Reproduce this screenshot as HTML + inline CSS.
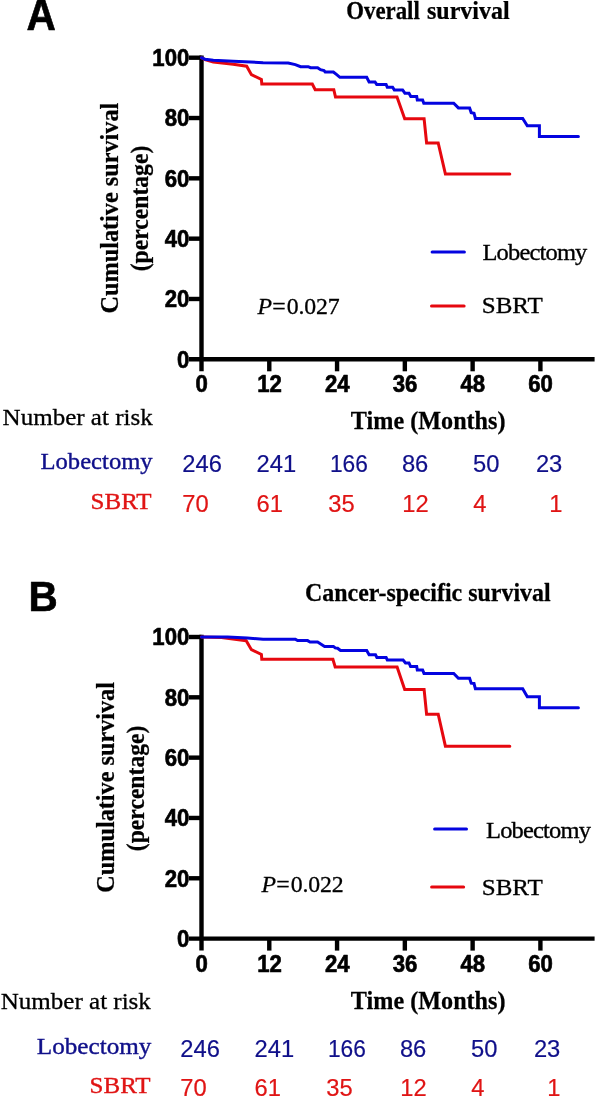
<!DOCTYPE html>
<html lang="en">
<head>
<meta charset="utf-8">
<title>Survival curves</title>
<style>
html,body{margin:0;padding:0;background:#fff;}
body{width:596px;height:1097px;overflow:hidden;}
svg{display:block;}
text{white-space:pre;}
</style>
</head>
<body>
<svg width="596" height="1097" viewBox="0 0 596 1097">
<rect width="596" height="1097" fill="#fff"/>
<text transform="translate(26.4 29.6) scale(0.935 1)" font-family='"Liberation Sans", sans-serif' font-size="43.5" font-weight="bold" fill="#000" stroke="#000" stroke-width="0.7" stroke-linejoin="round" text-anchor="start">A</text>
<text transform="translate(28.5 610.7) scale(0.95 1)" font-family='"Liberation Sans", sans-serif' font-size="42.6" font-weight="bold" fill="#000" stroke="#000" stroke-width="0.6" stroke-linejoin="round" text-anchor="start">B</text>
<g stroke="#000" stroke-width="4.4" fill="none" stroke-linecap="butt">
<path d="M201.5 55.50 V371.30"/>
<path d="M189 359.30 H594.6"/>
<path d="M189 57.70 H201.5"/>
<path d="M189 118.02 H201.5"/>
<path d="M189 178.34 H201.5"/>
<path d="M189 238.66 H201.5"/>
<path d="M189 298.98 H201.5"/>
<path d="M269.28 359.30 V371.30"/>
<path d="M337.06 359.30 V371.30"/>
<path d="M404.84 359.30 V371.30"/>
<path d="M472.62 359.30 V371.30"/>
<path d="M540.40 359.30 V371.30"/>
</g>
<text transform="translate(189.3 66.10) scale(0.94 1)" font-family='"Liberation Sans", sans-serif' font-size="23.6" font-weight="bold" fill="#000" stroke="#000" stroke-width="0.65" stroke-linejoin="round" text-anchor="end">100</text>
<text transform="translate(189.3 126.42) scale(0.94 1)" font-family='"Liberation Sans", sans-serif' font-size="23.6" font-weight="bold" fill="#000" stroke="#000" stroke-width="0.65" stroke-linejoin="round" text-anchor="end">80</text>
<text transform="translate(189.3 186.74) scale(0.94 1)" font-family='"Liberation Sans", sans-serif' font-size="23.6" font-weight="bold" fill="#000" stroke="#000" stroke-width="0.65" stroke-linejoin="round" text-anchor="end">60</text>
<text transform="translate(189.3 247.06) scale(0.94 1)" font-family='"Liberation Sans", sans-serif' font-size="23.6" font-weight="bold" fill="#000" stroke="#000" stroke-width="0.65" stroke-linejoin="round" text-anchor="end">40</text>
<text transform="translate(189.3 307.38) scale(0.94 1)" font-family='"Liberation Sans", sans-serif' font-size="23.6" font-weight="bold" fill="#000" stroke="#000" stroke-width="0.65" stroke-linejoin="round" text-anchor="end">20</text>
<text transform="translate(189.3 367.70) scale(0.94 1)" font-family='"Liberation Sans", sans-serif' font-size="23.6" font-weight="bold" fill="#000" stroke="#000" stroke-width="0.65" stroke-linejoin="round" text-anchor="end">0</text>
<text transform="translate(201.70 392.30) scale(0.94 1)" font-family='"Liberation Sans", sans-serif' font-size="23.6" font-weight="bold" fill="#000" stroke="#000" stroke-width="0.65" stroke-linejoin="round" text-anchor="middle">0</text>
<text transform="translate(269.48 392.30) scale(0.94 1)" font-family='"Liberation Sans", sans-serif' font-size="23.6" font-weight="bold" fill="#000" stroke="#000" stroke-width="0.65" stroke-linejoin="round" text-anchor="middle">12</text>
<text transform="translate(337.26 392.30) scale(0.94 1)" font-family='"Liberation Sans", sans-serif' font-size="23.6" font-weight="bold" fill="#000" stroke="#000" stroke-width="0.65" stroke-linejoin="round" text-anchor="middle">24</text>
<text transform="translate(405.04 392.30) scale(0.94 1)" font-family='"Liberation Sans", sans-serif' font-size="23.6" font-weight="bold" fill="#000" stroke="#000" stroke-width="0.65" stroke-linejoin="round" text-anchor="middle">36</text>
<text transform="translate(472.82 392.30) scale(0.94 1)" font-family='"Liberation Sans", sans-serif' font-size="23.6" font-weight="bold" fill="#000" stroke="#000" stroke-width="0.65" stroke-linejoin="round" text-anchor="middle">48</text>
<text transform="translate(540.60 392.30) scale(0.94 1)" font-family='"Liberation Sans", sans-serif' font-size="23.6" font-weight="bold" fill="#000" stroke="#000" stroke-width="0.65" stroke-linejoin="round" text-anchor="middle">60</text>
<path d="M201.5 57.7 L205.0 59.6 L213.3 62.1 L233.2 64.3 L246.7 66.2 L251.4 74.7 L261.4 79.4 L261.8 84.0 L312.3 84.0 L315.2 89.7 L333.8 89.7 L335.5 97.1 L397.0 97.1 L404.7 118.8 L424.1 118.8 L426.6 143.0 L438.2 143.0 L445.4 174.1 L509.8 174.1" stroke="#e6080f" stroke-width="3.0" fill="none" stroke-linejoin="miter" stroke-linecap="round"/>
<path d="M201.5 57.7 L203.0 58.4 L205.0 59.2 L213.3 60.3 L233.2 61.2 L263.1 62.7 L288.2 63.0 L295.3 64.6 L300.6 66.7 L308.2 66.7 L310.5 67.7 L317.6 67.7 L320.5 69.7 L324.0 70.5 L325.2 72.0 L333.4 72.0 L336.4 74.4 L339.9 77.3 L366.7 77.3 L369.1 82.0 L375.0 82.0 L376.7 84.4 L386.1 84.4 L387.3 87.3 L392.6 87.3 L394.3 89.9 L402.6 89.9 L404.9 93.2 L409.0 93.2 L410.8 96.5 L416.7 96.5 L417.3 100.0 L422.6 100.0 L423.8 103.2 L453.7 103.2 L458.4 107.9 L469.6 107.9 L471.2 112.6 L474.0 113.2 L475.4 118.4 L522.7 118.4 L527.3 125.7 L539.4 125.7 L539.4 136.4 L578.4 136.4" stroke="#0404e0" stroke-width="3.0" fill="none" stroke-linejoin="miter" stroke-linecap="round"/>
<text transform="translate(346.2 19.4) scale(0.937 1)" font-family='"Liberation Serif", serif' font-size="24.4" font-weight="bold" fill="#000" stroke="#000" stroke-width="0.25" stroke-linejoin="round" text-anchor="start">Overall</text>
<text transform="translate(427.0 19.4) scale(0.984 1)" font-family='"Liberation Serif", serif' font-size="24.4" font-weight="bold" fill="#000" stroke="#000" stroke-width="0.25" stroke-linejoin="round" text-anchor="start">survival</text>
<text transform="translate(117.8 208.10) rotate(-90) scale(0.94 1)" font-family='"Liberation Serif", serif' font-size="25.8" font-weight="bold" fill="#000" stroke="#000" stroke-width="0.25" stroke-linejoin="round" text-anchor="middle">Cumulative survival</text>
<text transform="translate(147.9 208.50) rotate(-90) scale(0.916 1)" font-family='"Liberation Serif", serif' font-size="25.8" font-weight="bold" fill="#000" stroke="#000" stroke-width="0.25" stroke-linejoin="round" text-anchor="middle">(percentage)</text>
<text transform="translate(428.2 429.30) scale(0.975 1)" font-family='"Liberation Serif", serif' font-size="24.8" font-weight="bold" fill="#000" stroke="#000" stroke-width="0.25" stroke-linejoin="round" text-anchor="middle">Time (Months)</text>
<text transform="translate(257.4 314.2)" font-family='"Liberation Serif", serif' font-size="23.8" stroke="#000" stroke-width="0.3"><tspan font-style="italic">P</tspan><tspan dx="0.4">=</tspan><tspan dx="0.9" letter-spacing="-0.12">0.027</tspan></text>
<path d="M432.1 252.0 H464.4" stroke="#0404e0" stroke-width="3.0" stroke-linecap="round"/>
<path d="M431.5 306.0 H464.1" stroke="#e6080f" stroke-width="3.0" stroke-linecap="round"/>
<text transform="translate(482.4 259.9) scale(1.03 1)" font-family='"Liberation Serif", serif' font-size="23.8" font-weight="normal" fill="#000" stroke="#000" stroke-width="0.35" stroke-linejoin="round" letter-spacing="-0.8" text-anchor="start">Lobectomy</text>
<text transform="translate(481.8 313.4) scale(1.05 1)" font-family='"Liberation Serif", serif' font-size="23.8" font-weight="normal" fill="#000" stroke="#000" stroke-width="0.35" stroke-linejoin="round" text-anchor="start">SBRT</text>
<g stroke="#000" stroke-width="4.4" fill="none" stroke-linecap="butt">
<path d="M201.5 634.80 V950.60"/>
<path d="M189 938.60 H594.6"/>
<path d="M189 637.00 H201.5"/>
<path d="M189 697.32 H201.5"/>
<path d="M189 757.64 H201.5"/>
<path d="M189 817.96 H201.5"/>
<path d="M189 878.28 H201.5"/>
<path d="M269.28 938.60 V950.60"/>
<path d="M337.06 938.60 V950.60"/>
<path d="M404.84 938.60 V950.60"/>
<path d="M472.62 938.60 V950.60"/>
<path d="M540.40 938.60 V950.60"/>
</g>
<text transform="translate(189.3 645.40) scale(0.94 1)" font-family='"Liberation Sans", sans-serif' font-size="23.6" font-weight="bold" fill="#000" stroke="#000" stroke-width="0.65" stroke-linejoin="round" text-anchor="end">100</text>
<text transform="translate(189.3 705.72) scale(0.94 1)" font-family='"Liberation Sans", sans-serif' font-size="23.6" font-weight="bold" fill="#000" stroke="#000" stroke-width="0.65" stroke-linejoin="round" text-anchor="end">80</text>
<text transform="translate(189.3 766.04) scale(0.94 1)" font-family='"Liberation Sans", sans-serif' font-size="23.6" font-weight="bold" fill="#000" stroke="#000" stroke-width="0.65" stroke-linejoin="round" text-anchor="end">60</text>
<text transform="translate(189.3 826.36) scale(0.94 1)" font-family='"Liberation Sans", sans-serif' font-size="23.6" font-weight="bold" fill="#000" stroke="#000" stroke-width="0.65" stroke-linejoin="round" text-anchor="end">40</text>
<text transform="translate(189.3 886.68) scale(0.94 1)" font-family='"Liberation Sans", sans-serif' font-size="23.6" font-weight="bold" fill="#000" stroke="#000" stroke-width="0.65" stroke-linejoin="round" text-anchor="end">20</text>
<text transform="translate(189.3 947.00) scale(0.94 1)" font-family='"Liberation Sans", sans-serif' font-size="23.6" font-weight="bold" fill="#000" stroke="#000" stroke-width="0.65" stroke-linejoin="round" text-anchor="end">0</text>
<text transform="translate(201.70 971.60) scale(0.94 1)" font-family='"Liberation Sans", sans-serif' font-size="23.6" font-weight="bold" fill="#000" stroke="#000" stroke-width="0.65" stroke-linejoin="round" text-anchor="middle">0</text>
<text transform="translate(269.48 971.60) scale(0.94 1)" font-family='"Liberation Sans", sans-serif' font-size="23.6" font-weight="bold" fill="#000" stroke="#000" stroke-width="0.65" stroke-linejoin="round" text-anchor="middle">12</text>
<text transform="translate(337.26 971.60) scale(0.94 1)" font-family='"Liberation Sans", sans-serif' font-size="23.6" font-weight="bold" fill="#000" stroke="#000" stroke-width="0.65" stroke-linejoin="round" text-anchor="middle">24</text>
<text transform="translate(405.04 971.60) scale(0.94 1)" font-family='"Liberation Sans", sans-serif' font-size="23.6" font-weight="bold" fill="#000" stroke="#000" stroke-width="0.65" stroke-linejoin="round" text-anchor="middle">36</text>
<text transform="translate(472.82 971.60) scale(0.94 1)" font-family='"Liberation Sans", sans-serif' font-size="23.6" font-weight="bold" fill="#000" stroke="#000" stroke-width="0.65" stroke-linejoin="round" text-anchor="middle">48</text>
<text transform="translate(540.60 971.60) scale(0.94 1)" font-family='"Liberation Sans", sans-serif' font-size="23.6" font-weight="bold" fill="#000" stroke="#000" stroke-width="0.65" stroke-linejoin="round" text-anchor="middle">60</text>
<path d="M201.5 636.9 L221.5 637.5 L246.2 640.7 L251.4 649.7 L261.4 654.4 L261.8 659.3 L332.9 659.3 L335.2 667.0 L397.1 667.0 L404.7 689.4 L424.1 689.4 L426.6 714.2 L438.2 714.2 L445.4 746.2 L509.8 746.2" stroke="#e6080f" stroke-width="3.0" fill="none" stroke-linejoin="miter" stroke-linecap="round"/>
<path d="M201.5 636.9 L227.4 636.9 L247.3 638.0 L263.1 639.2 L295.3 639.2 L297.6 640.6 L307.6 640.6 L310.0 642.0 L317.6 642.0 L324.6 646.4 L333.4 646.4 L335.2 647.9 L337.6 648.2 L340.5 650.5 L366.7 650.5 L369.1 654.7 L375.5 654.7 L376.9 657.4 L386.1 657.4 L387.3 660.0 L403.1 660.0 L405.5 662.9 L409.0 662.9 L410.6 666.5 L416.7 666.5 L417.3 670.0 L422.6 670.0 L424.0 673.4 L453.7 673.4 L458.4 678.3 L469.6 678.3 L471.2 683.2 L474.0 683.5 L475.4 688.8 L522.7 688.8 L527.3 696.8 L539.4 696.8 L539.4 707.7 L578.4 707.7" stroke="#0404e0" stroke-width="3.0" fill="none" stroke-linejoin="miter" stroke-linecap="round"/>
<text transform="translate(305.0 601.2) scale(0.981 1)" font-family='"Liberation Serif", serif' font-size="24.4" font-weight="bold" fill="#000" stroke="#000" stroke-width="0.25" stroke-linejoin="round" text-anchor="start">Cancer-specific survival</text>
<text transform="translate(114.3 787.40) rotate(-90) scale(0.94 1)" font-family='"Liberation Serif", serif' font-size="25.8" font-weight="bold" fill="#000" stroke="#000" stroke-width="0.25" stroke-linejoin="round" text-anchor="middle">Cumulative survival</text>
<text transform="translate(144.4 788.40) rotate(-90) scale(0.916 1)" font-family='"Liberation Serif", serif' font-size="25.8" font-weight="bold" fill="#000" stroke="#000" stroke-width="0.25" stroke-linejoin="round" text-anchor="middle">(percentage)</text>
<text transform="translate(428.2 1008.60) scale(0.975 1)" font-family='"Liberation Serif", serif' font-size="24.8" font-weight="bold" fill="#000" stroke="#000" stroke-width="0.25" stroke-linejoin="round" text-anchor="middle">Time (Months)</text>
<text transform="translate(261.4 891.6)" font-family='"Liberation Serif", serif' font-size="23.8" stroke="#000" stroke-width="0.3"><tspan font-style="italic">P</tspan><tspan dx="0.4">=</tspan><tspan dx="0.9" letter-spacing="-0.12">0.022</tspan></text>
<path d="M434.6 828.9 H466.5" stroke="#0404e0" stroke-width="3.0" stroke-linecap="round"/>
<path d="M431.6 887.1 H463.6" stroke="#e6080f" stroke-width="3.0" stroke-linecap="round"/>
<text transform="translate(486.0 837.8) scale(1.03 1)" font-family='"Liberation Serif", serif' font-size="23.8" font-weight="normal" fill="#000" stroke="#000" stroke-width="0.35" stroke-linejoin="round" letter-spacing="-0.8" text-anchor="start">Lobectomy</text>
<text transform="translate(481.8 895.1) scale(1.05 1)" font-family='"Liberation Serif", serif' font-size="23.8" font-weight="normal" fill="#000" stroke="#000" stroke-width="0.35" stroke-linejoin="round" text-anchor="start">SBRT</text>
<text transform="translate(2.6 424.8) scale(1.052 1)" font-family='"Liberation Serif", serif' font-size="23.8" font-weight="normal" fill="#000" stroke="#000" stroke-width="0.3" stroke-linejoin="round" text-anchor="start">Number at risk</text>
<text transform="translate(152.7 468.6) scale(1.035 1)" font-family='"Liberation Serif", serif' font-size="23.8" font-weight="normal" fill="#10108a" stroke="#10108a" stroke-width="0.4" stroke-linejoin="round" text-anchor="end">Lobectomy</text>
<text transform="translate(151.6 508.6) scale(1.05 1)" font-family='"Liberation Serif", serif' font-size="23.8" font-weight="normal" fill="#e01414" stroke="#e01414" stroke-width="0.4" stroke-linejoin="round" text-anchor="end">SBRT</text>
<text transform="translate(182.3 471.9) scale(0.97 1)" font-family='"Liberation Sans", sans-serif' font-size="24.5" font-weight="normal" fill="#10108a" stroke="#10108a" stroke-width="0.2" stroke-linejoin="round" text-anchor="start">246</text>
<text transform="translate(256.5 471.9) scale(0.97 1)" font-family='"Liberation Sans", sans-serif' font-size="24.5" font-weight="normal" fill="#10108a" stroke="#10108a" stroke-width="0.2" stroke-linejoin="round" text-anchor="start">241</text>
<text transform="translate(329.9 471.9) scale(0.93 1)" font-family='"Liberation Sans", sans-serif' font-size="24.5" font-weight="normal" fill="#10108a" stroke="#10108a" stroke-width="0.2" stroke-linejoin="round" text-anchor="start">166</text>
<text transform="translate(401.9 471.9) scale(0.97 1)" font-family='"Liberation Sans", sans-serif' font-size="24.5" font-weight="normal" fill="#10108a" stroke="#10108a" stroke-width="0.2" stroke-linejoin="round" text-anchor="start">86</text>
<text transform="translate(473.1 471.9) scale(0.97 1)" font-family='"Liberation Sans", sans-serif' font-size="24.5" font-weight="normal" fill="#10108a" stroke="#10108a" stroke-width="0.2" stroke-linejoin="round" text-anchor="start">50</text>
<text transform="translate(535.9 471.9) scale(0.97 1)" font-family='"Liberation Sans", sans-serif' font-size="24.5" font-weight="normal" fill="#10108a" stroke="#10108a" stroke-width="0.2" stroke-linejoin="round" text-anchor="start">23</text>
<text transform="translate(182.3 511.8) scale(0.97 1)" font-family='"Liberation Sans", sans-serif' font-size="24.5" font-weight="normal" fill="#e01414" stroke="#e01414" stroke-width="0.2" stroke-linejoin="round" text-anchor="start">70</text>
<text transform="translate(256.5 511.8) scale(0.97 1)" font-family='"Liberation Sans", sans-serif' font-size="24.5" font-weight="normal" fill="#e01414" stroke="#e01414" stroke-width="0.2" stroke-linejoin="round" text-anchor="start">61</text>
<text transform="translate(328.3 511.8) scale(0.97 1)" font-family='"Liberation Sans", sans-serif' font-size="24.5" font-weight="normal" fill="#e01414" stroke="#e01414" stroke-width="0.2" stroke-linejoin="round" text-anchor="start">35</text>
<text transform="translate(402.3 511.8) scale(0.97 1)" font-family='"Liberation Sans", sans-serif' font-size="24.5" font-weight="normal" fill="#e01414" stroke="#e01414" stroke-width="0.2" stroke-linejoin="round" text-anchor="start">12</text>
<text transform="translate(473.2 511.8) scale(0.97 1)" font-family='"Liberation Sans", sans-serif' font-size="24.5" font-weight="normal" fill="#e01414" stroke="#e01414" stroke-width="0.2" stroke-linejoin="round" text-anchor="start">4</text>
<text transform="translate(549.3 511.8) scale(0.97 1)" font-family='"Liberation Sans", sans-serif' font-size="24.5" font-weight="normal" fill="#e01414" stroke="#e01414" stroke-width="0.2" stroke-linejoin="round" text-anchor="start">1</text>
<text transform="translate(0.8 1009.2) scale(1.052 1)" font-family='"Liberation Serif", serif' font-size="23.8" font-weight="normal" fill="#000" stroke="#000" stroke-width="0.3" stroke-linejoin="round" text-anchor="start">Number at risk</text>
<text transform="translate(151.4 1053.9) scale(1.058 1)" font-family='"Liberation Serif", serif' font-size="23.8" font-weight="normal" fill="#10108a" stroke="#10108a" stroke-width="0.4" stroke-linejoin="round" text-anchor="end">Lobectomy</text>
<text transform="translate(150.6 1093.4) scale(1.05 1)" font-family='"Liberation Serif", serif' font-size="23.8" font-weight="normal" fill="#e01414" stroke="#e01414" stroke-width="0.4" stroke-linejoin="round" text-anchor="end">SBRT</text>
<text transform="translate(180.3 1057.3) scale(0.97 1)" font-family='"Liberation Sans", sans-serif' font-size="24.5" font-weight="normal" fill="#10108a" stroke="#10108a" stroke-width="0.2" stroke-linejoin="round" text-anchor="start">246</text>
<text transform="translate(254.5 1057.3) scale(0.97 1)" font-family='"Liberation Sans", sans-serif' font-size="24.5" font-weight="normal" fill="#10108a" stroke="#10108a" stroke-width="0.2" stroke-linejoin="round" text-anchor="start">241</text>
<text transform="translate(327.9 1057.3) scale(0.93 1)" font-family='"Liberation Sans", sans-serif' font-size="24.5" font-weight="normal" fill="#10108a" stroke="#10108a" stroke-width="0.2" stroke-linejoin="round" text-anchor="start">166</text>
<text transform="translate(399.9 1057.3) scale(0.97 1)" font-family='"Liberation Sans", sans-serif' font-size="24.5" font-weight="normal" fill="#10108a" stroke="#10108a" stroke-width="0.2" stroke-linejoin="round" text-anchor="start">86</text>
<text transform="translate(471.1 1057.3) scale(0.97 1)" font-family='"Liberation Sans", sans-serif' font-size="24.5" font-weight="normal" fill="#10108a" stroke="#10108a" stroke-width="0.2" stroke-linejoin="round" text-anchor="start">50</text>
<text transform="translate(533.9 1057.3) scale(0.97 1)" font-family='"Liberation Sans", sans-serif' font-size="24.5" font-weight="normal" fill="#10108a" stroke="#10108a" stroke-width="0.2" stroke-linejoin="round" text-anchor="start">23</text>
<text transform="translate(180.3 1096.4) scale(0.97 1)" font-family='"Liberation Sans", sans-serif' font-size="24.5" font-weight="normal" fill="#e01414" stroke="#e01414" stroke-width="0.2" stroke-linejoin="round" text-anchor="start">70</text>
<text transform="translate(254.5 1096.4) scale(0.97 1)" font-family='"Liberation Sans", sans-serif' font-size="24.5" font-weight="normal" fill="#e01414" stroke="#e01414" stroke-width="0.2" stroke-linejoin="round" text-anchor="start">61</text>
<text transform="translate(326.3 1096.4) scale(0.97 1)" font-family='"Liberation Sans", sans-serif' font-size="24.5" font-weight="normal" fill="#e01414" stroke="#e01414" stroke-width="0.2" stroke-linejoin="round" text-anchor="start">35</text>
<text transform="translate(400.3 1096.4) scale(0.97 1)" font-family='"Liberation Sans", sans-serif' font-size="24.5" font-weight="normal" fill="#e01414" stroke="#e01414" stroke-width="0.2" stroke-linejoin="round" text-anchor="start">12</text>
<text transform="translate(471.2 1096.4) scale(0.97 1)" font-family='"Liberation Sans", sans-serif' font-size="24.5" font-weight="normal" fill="#e01414" stroke="#e01414" stroke-width="0.2" stroke-linejoin="round" text-anchor="start">4</text>
<text transform="translate(547.3 1096.4) scale(0.97 1)" font-family='"Liberation Sans", sans-serif' font-size="24.5" font-weight="normal" fill="#e01414" stroke="#e01414" stroke-width="0.2" stroke-linejoin="round" text-anchor="start">1</text>
</svg>
</body>
</html>
